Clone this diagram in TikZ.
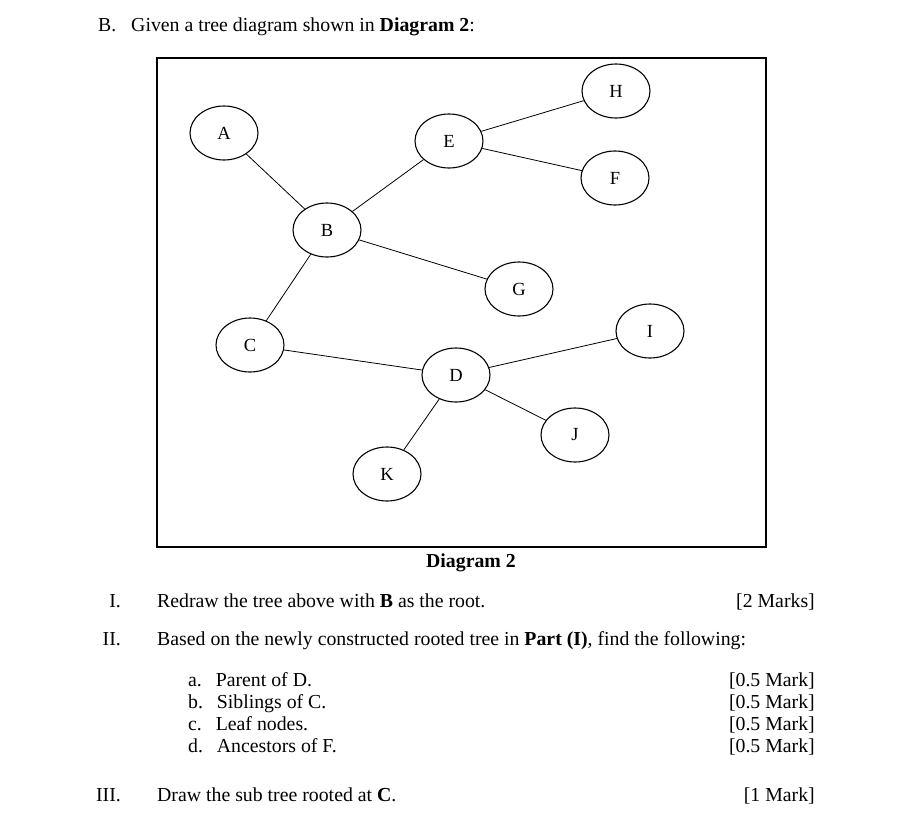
\documentclass[tikz,border=0pt]{standalone}
\usepackage{fontspec}
\setmainfont{Liberation Serif}
\usetikzlibrary{shapes.geometric}

\begin{document}
\begin{tikzpicture}[x=1pt,y=-1pt,
    vertex/.style={ellipse,draw,line width=1.1pt,minimum width=68pt,minimum height=54pt,inner sep=0pt,font=\fontsize{18.5}{21}\selectfont},
    txt/.style={anchor=base west,inner sep=0pt,font=\fontsize{19.8}{23}\selectfont},
    numtxt/.style={anchor=base east,inner sep=0pt,font=\fontsize{19.8}{23}\selectfont},
    markbox/.style={anchor=base east,inner sep=0pt,font=\fontsize{19.8}{23}\selectfont}]
                \useasboundingbox (0,0) rectangle (908,833);

                \node (title) at (98,31) [txt] {B.\hspace{0.75em}Given a tree diagram shown in \textbf{Diagram 2}:};
                \draw[line width=1.2pt] (157,58) rectangle (766,547);

                \node (A) at (224,133) [vertex] {A};
                \node (B) at (327,230) [vertex] {B};
                \node (E) at (449,141) [vertex] {E};
                \node (H) at (616,91) [vertex] {H};
                \node (F) at (615,178) [vertex] {F};
                \node (G) at (519,289) [vertex] {G};
                \node (C) at (250,345) [vertex] {C};
                \node (D) at (456,375) [vertex] {D};
                \node (I) at (650,331) [vertex] {I};
                \node (J) at (575,435) [vertex] {J};
                \node (K) at (387,474) [vertex] {K};

                \draw[line width=0.8pt] (A) -- (B) (B) -- (E) (B) -- (G) (B) -- (C) (E) -- (H)
                (E) -- (F) (C) -- (D) (D) -- (I) (D) -- (J) (D) -- (K);

                \node (caption) at (471,567) [anchor=base,inner sep=0pt,font=\fontsize{19.8}{23}\selectfont\bfseries] {Diagram 2};

                \node (n1) at (121,607) [numtxt] {I.};
                \node (q1) at (157,607) [txt] {Redraw the tree above with \textbf{B} as the root.};
                \node (m1) at (815,607) [markbox] {[2 Marks]};
                \node (n2) at (121,645) [numtxt] {II.};
                \node (q2) at (157,645) [txt] {Based on the newly constructed rooted tree in \textbf{Part (I)}, find the following:};
                \node (a) at (188,686) [txt] {a.\hspace{0.7em}Parent of D.};
                \node (b) at (188,708) [txt] {b.\hspace{0.7em}Siblings of C.};
                \node (c) at (188,730) [txt] {c.\hspace{0.7em}Leaf nodes.};
                \node (d) at (188,752) [txt] {d.\hspace{0.7em}Ancestors of F.};
                \node (ma) at (815,686) [markbox] {[0.5 Mark]};
                \node (mb) at (815,708) [markbox] {[0.5 Mark]};
                \node (mc) at (815,730) [markbox] {[0.5 Mark]};
                \node (md) at (815,752) [markbox] {[0.5 Mark]};
                \node (n3) at (121,801) [numtxt] {III.};
                \node (q3) at (157,801) [txt] {Draw the sub tree rooted at \textbf{C}.};
                \node (m3) at (815,801) [markbox] {[1 Mark]};

            \end{tikzpicture}
\end{document}
